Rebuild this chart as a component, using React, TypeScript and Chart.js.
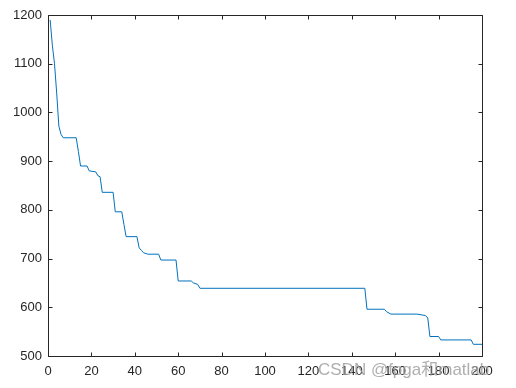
import React, { useEffect, useRef } from "react";
import { Chart, registerables } from "chart.js";

Chart.register(...registerables);

// Breakpoints of the convergence curve (iteration, value)
const iterations = [1, 2, 3, 4, 5, 6, 7, 13, 14, 15, 18, 19, 22, 23, 24, 25, 30, 31, 34, 35, 36, 41, 42, 43, 44, 46, 51, 52, 59, 60, 66, 67, 69, 70, 146, 147, 155, 156, 158, 170, 174, 175, 176, 180, 181, 195, 196, 200];
const fitness = [1190, 1138, 1100, 1040, 972, 955, 948, 948, 920, 890, 890, 880, 878, 870, 868, 836, 836, 796, 796, 770, 745, 745, 722, 717, 712, 709, 709, 697, 697, 654, 654, 650, 647, 639, 639, 596, 596, 591, 586, 586, 583, 578, 540, 540, 533, 533, 524, 524];

const xTicks = [0, 20, 40, 60, 80, 100, 120, 140, 160, 180, 200];
const yTicks = [500, 600, 700, 800, 900, 1000, 1100, 1200];

const AXIS_COLOR = "#262626";
const LINE_COLOR = "#0072BD";

const boxPlugin = {
  id: "matlabBox",
  afterDatasetsDraw(chart: any) {
    const { ctx, chartArea: a, scales } = chart;
    const L = Math.round(a.left) + 0.5;
    const R = Math.round(a.right) + 0.5;
    const T = Math.round(a.top) + 0.5;
    const B = Math.round(a.bottom) + 0.5;
    ctx.save();
    ctx.strokeStyle = AXIS_COLOR;
    ctx.lineWidth = 1;
    ctx.beginPath();
    ctx.rect(L, T, R - L, B - T);
    const tl = 4;
    for (const v of xTicks) {
      const px = Math.round(scales.x.getPixelForValue(v)) + 0.5;
      ctx.moveTo(px, B);
      ctx.lineTo(px, B - tl);
      ctx.moveTo(px, T);
      ctx.lineTo(px, T + tl);
    }
    for (const v of yTicks) {
      const py = Math.round(scales.y.getPixelForValue(v)) + 0.5;
      ctx.moveTo(L, py);
      ctx.lineTo(L + tl, py);
      ctx.moveTo(R, py);
      ctx.lineTo(R - tl, py);
    }
    ctx.stroke();
    ctx.restore();
  },
};

export default function App() {
  const ref = useRef<HTMLCanvasElement>(null);

  useEffect(() => {
    if (!ref.current) return;
    const points = iterations.map((x, i) => ({ x, y: fitness[i] }));
    const chart = new Chart(ref.current, {
      type: "scatter",
      data: {
        datasets: [
          {
            data: points,
            showLine: true,
            borderColor: LINE_COLOR,
            borderWidth: 1,
            pointRadius: 0,
            tension: 0,
          },
        ],
      },
      options: {
        animation: false,
        responsive: false,
        maintainAspectRatio: false,
        layout: { padding: { left: 0, right: 34, top: 15, bottom: 0 } },
        plugins: { legend: { display: false }, tooltip: { enabled: false } },
        scales: {
          x: {
            type: "linear",
            min: 0,
            max: 200,
            afterBuildTicks: (s: any) => {
              s.ticks = xTicks.map((v) => ({ value: v }));
            },
            afterFit: (s: any) => {
              s.height = 32;
            },
            grid: { display: false, drawTicks: false },
            border: { display: false },
            ticks: {
              color: AXIS_COLOR,
              padding: 8,
              maxRotation: 0,
              autoSkip: false,
              callback: (v: any) => String(v),
              font: { family: "'Liberation Sans', Arial, sans-serif", size: 13 },
            },
          },
          y: {
            type: "linear",
            min: 500,
            max: 1200,
            afterBuildTicks: (s: any) => {
              s.ticks = yTicks.map((v) => ({ value: v }));
            },
            afterFit: (s: any) => {
              s.width = 48;
            },
            grid: { display: false, drawTicks: false },
            border: { display: false },
            ticks: {
              color: AXIS_COLOR,
              padding: 6,
              autoSkip: false,
              callback: (v: any) => String(v),
              font: { family: "'Liberation Sans', Arial, sans-serif", size: 13 },
            },
          },
        },
      },
      plugins: [boxPlugin],
    });
    return () => chart.destroy();
  }, []);

  return (
    <div style={{ position: "absolute", left: 0, top: 0, width: 516, height: 388, background: "#fff" }}>
      <canvas ref={ref} width={516} height={388} style={{ width: 516, height: 388, display: "block" }} />
      <div
        style={{
          position: "absolute",
          left: 318,
          top: 359,
          fontFamily: "'Liberation Sans', Arial, 'Noto Sans CJK SC', sans-serif",
          fontSize: 17,
          lineHeight: "22px",
          color: "rgba(160,160,160,0.85)",
          whiteSpace: "nowrap",
          pointerEvents: "none",
        }}
      >
        CSDN @fpga和matlab
      </div>
    </div>
  );
}
